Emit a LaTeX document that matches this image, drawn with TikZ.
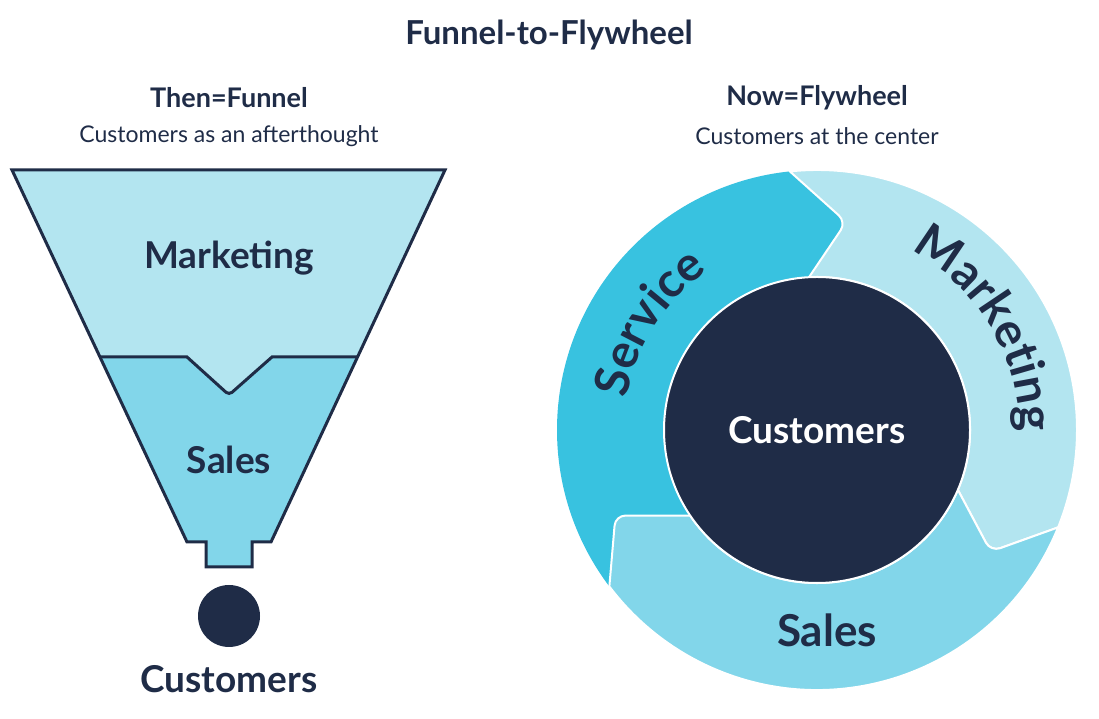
\documentclass[tikz,border=0pt]{standalone}
\usepackage{fontspec}
\setmainfont{Lato}
\usetikzlibrary{decorations.text}
\definecolor{navy}{HTML}{1F2C47}
\definecolor{lite}{HTML}{B3E5F0}
\definecolor{mid}{HTML}{82D6EA}
\definecolor{dark}{HTML}{38C2E0}
\tikzset{
  lbl/.style={text=navy,font=\bfseries\fontsize{37}{37}\selectfont},
  sub/.style={text=navy,font=\fontsize{23}{25}\selectfont},
  head/.style={text=navy,font=\bfseries\fontsize{27}{29}\selectfont},
  fun/.style={draw=navy,line width=3pt,line join=miter},
  seg/.style={draw=white,line width=2pt,line join=round},
}
\begin{document}
\begin{tikzpicture}[x=1pt,y=1pt]
\useasboundingbox (0,0) rectangle (1099,719);
\node[text=navy,font=\bfseries\fontsize{33}{36}\selectfont] (title) at (549,684) {Funnel-to-Flywheel};
\node[head] (then) at (229,621) {Then=Funnel};
\node[sub] (thens) at (229,583) {Customers as an afterthought};
\node[head] (now) at (817,621) {Now=Flywheel};
\node[sub] (nows) at (817,583) {Customers at the center};
% funnel
\fill[mid] (100,362) -- (357,362) -- (271,177) -- (252,177) -- (252,152) -- (206,152) -- (206,177) -- (187,177) -- cycle;
\fill[lite] (12,549) -- (445,549) -- (357,362) -- (272,362) -- (229,324) -- (187,362) -- (100,362) -- cycle;
\draw[fun] (12,549) -- (445,549) -- (271,177) -- (252,177) -- (252,152) -- (206,152) -- (206,177) -- (187,177) -- cycle;
\draw[fun] (100,362) -- (187,362) [rounded corners=4]-- (229,324) [sharp corners]-- (272,362) -- (357,362);
\node[lbl] (fm) at (229,461) {Marketing};
\node[lbl] (fs) at (229,259) {Sales};
\fill[navy] (229,103) circle (31);
\node[lbl] (fc) at (229,40) {Customers};
% flywheel
\begin{scope}[shift={(817,289)}]
\def\R{260}\def\r{153}
\fill[dark] (0,0) circle (\R);
% marketing
\filldraw[seg,fill=lite] (96:\R) arc[start angle=96,end angle=-22,radius=\R]
  [rounded corners=10]-- (-35:212) [sharp corners]-- (-23:\r) arc[start angle=-23,end angle=93,radius=\r]
  [rounded corners=10]-- (82:210) [sharp corners]-- cycle;
% sales
\filldraw[seg,fill=mid] (-22:\R) arc[start angle=-22,end angle=-143,radius=\R]
  [rounded corners=10]-- (-157:219) [sharp corners]-- (-146:\r) arc[start angle=-146,end angle=-23,radius=\r]
  [rounded corners=10]-- (-35:212) [sharp corners]-- cycle;
\filldraw[navy,draw=white,line width=2pt] (0,0) circle (\r);
\node[text=white,font=\bfseries\fontsize{37}{37}\selectfont] (fwc) at (0,0) {Customers};
\node[lbl,font=\bfseries\fontsize{44}{44}\selectfont] (fws) at (10,-200) {Sales};
\path[decorate,decoration={text along path,text align=center,
   text={|\bfseries\fontsize{48}{48}\selectfont\color{navy}|Marketing}}]
   (72:202) arc[start angle=72,end angle=-10,radius=202];
\path[decorate,decoration={text along path,text align=center,
   text={|\bfseries\fontsize{48}{48}\selectfont\color{navy}|Service}}]
   (182:193) arc[start angle=182,end angle=113,radius=193];
\end{scope}
\end{tikzpicture}
\end{document}
